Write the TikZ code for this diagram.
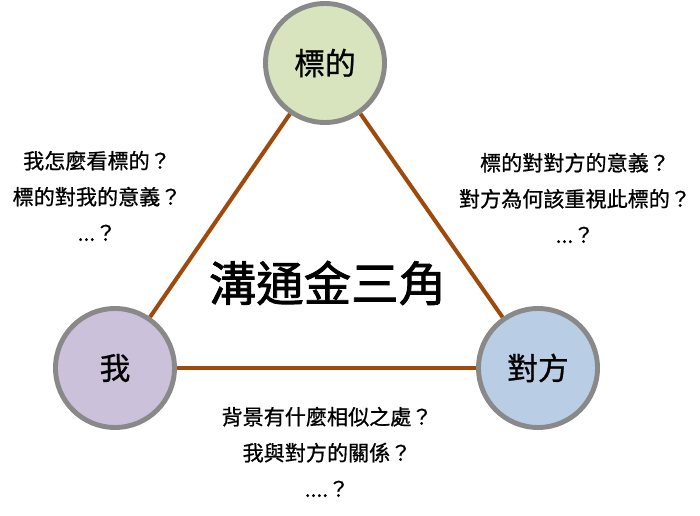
\documentclass[tikz,border=0pt]{standalone}
\usepackage{fontspec}
\setmainfont{Noto Sans CJK TC}
\newfontfamily\cjkmed[FakeBold=0.8]{Noto Sans CJK TC}
\newfontfamily\cjktitle[FakeBold=1.6]{Noto Sans CJK TC}
\definecolor{ringgray}{RGB}{137,137,137}
\definecolor{edgebrown}{RGB}{158,74,12}
\definecolor{targetgreen}{RGB}{215,228,189}
\definecolor{selfpurple}{RGB}{204,193,218}
\definecolor{otherblue}{RGB}{185,205,229}
\usetikzlibrary{positioning}

\begin{document}
\begin{tikzpicture}[
        party/.style={circle,draw=ringgray,line width=2.8pt,
                      minimum size=2.38cm,inner sep=1pt,
                      font=\cjkmed\fontsize{17.5}{20}\selectfont},
        link/.style={edgebrown,line width=2.3pt},
        question/.style={align=center,font=\cjkmed\fontsize{12}{20.5}\selectfont}]
      \useasboundingbox (0,0) rectangle (14,10.3);
      \node[party,fill=targetgreen] (target) at (6.5,9.04) {標的};
      \node[party,fill=selfpurple] (self) at (2.3,2.94) {我};
      \node[party,fill=otherblue] (other) at (10.76,2.94) {對方};
      \draw[link] (self) -- (target);
      \draw[link] (target) -- (other);
      \draw[link] (self) -- (other);
      \node[font=\cjktitle\fontsize{27}{30}\selectfont] (title) at (6.55,4.64) {溝通金三角};
      \node[question] (selfq) at (1.94,6.38) {我怎麼看標的？\\標的對我的意義？\\...？};
      \node[question] (otherq) at (11.5,6.34) {標的對對方的意義？\\對方為何該重視此標的？\\...？};
      \node[question] (bothq) at (6.54,1.26) {背景有什麼相似之處？\\我與對方的關係？\\....？};
    \end{tikzpicture}
\end{document}
